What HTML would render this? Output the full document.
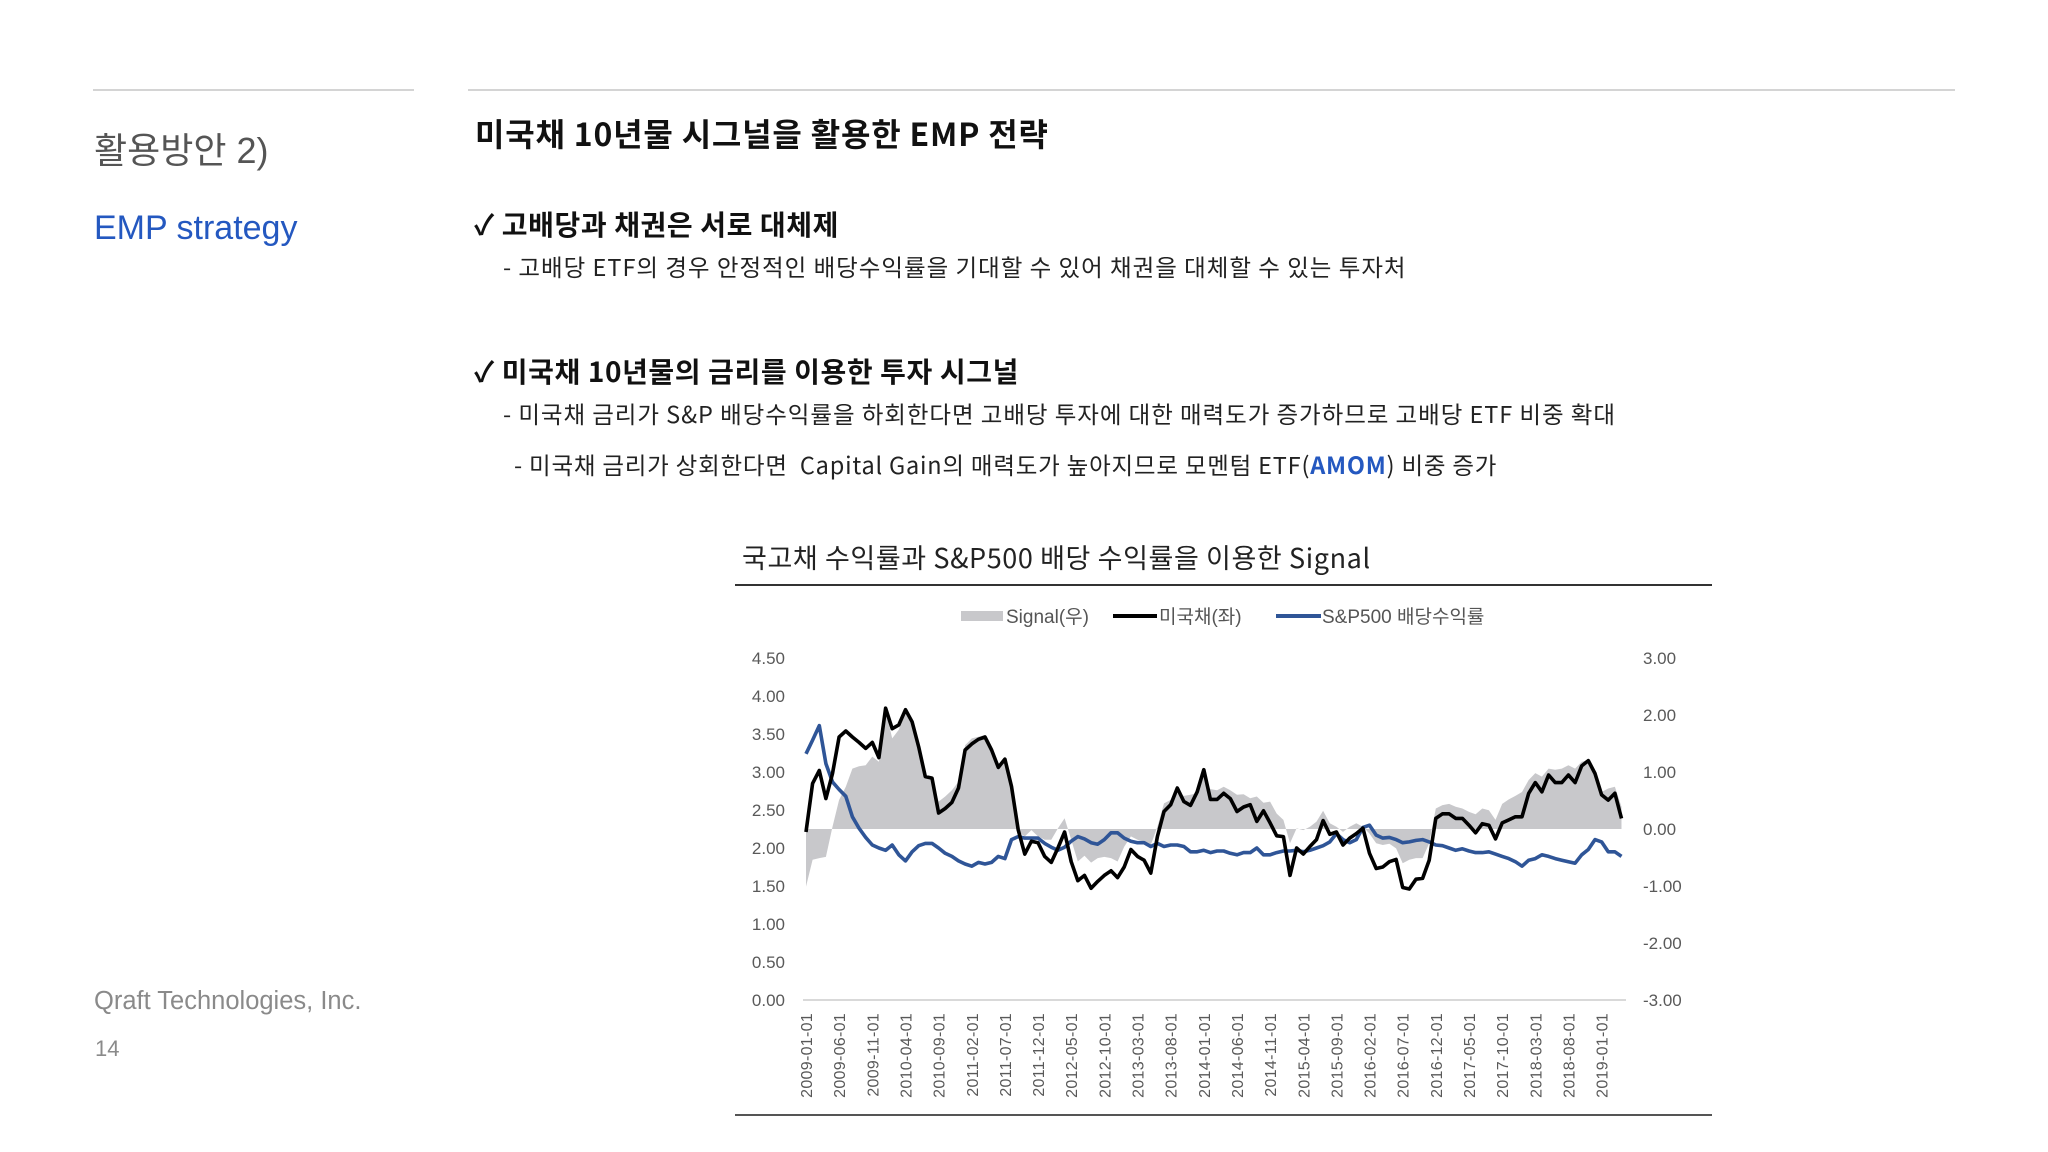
<!DOCTYPE html>
<html><head><meta charset="utf-8">
<style>
body{margin:0;width:2048px;height:1152px;background:#fff;overflow:hidden;font-family:"Liberation Sans","Noto Sans CJK KR",sans-serif;position:relative}
.a{position:absolute;white-space:nowrap}
.k{font-family:"Noto Sans CJK KR","Liberation Sans",sans-serif}
</style></head><body>
<div class="a" style="left:93px;top:89px;width:321px;height:2px;background:#d4d4d4"></div>
<div class="a" style="left:468px;top:89px;width:1487px;height:2px;background:#d4d4d4"></div>
<div class="a" style="left:94px;top:122px;font-size:36px;color:#555">활용방안 2)</div>
<div class="a" style="left:94px;top:209px;font-size:34px;color:#2458c0">EMP strategy</div>
<div class="a" style="left:94px;top:987px;font-size:25.5px;color:#8a8a8a">Qraft Technologies, Inc.</div>
<div class="a" style="left:95px;top:1036px;font-size:22px;color:#8a8a8a">14</div>

<div class="a k" style="left:475px;top:110px;font-size:32px;letter-spacing:0.8px;font-weight:bold;color:#111">미국채 10년물 시그널을 활용한 EMP 전략</div>
<div class="a k" style="left:474px;top:204px;font-size:28px;letter-spacing:0.6px;font-weight:bold;color:#111">✓ 고배당과 채권은 서로 대체제</div>
<div class="a k" style="left:503px;top:249px;font-size:23.5px;letter-spacing:1px;color:#222">- 고배당 ETF의 경우 안정적인 배당수익률을 기대할 수 있어 채권을 대체할 수 있는 투자처</div>
<div class="a k" style="left:474px;top:351px;font-size:28px;letter-spacing:0.6px;font-weight:bold;color:#111">✓ 미국채 10년물의 금리를 이용한 투자 시그널</div>
<div class="a k" style="left:503px;top:396px;font-size:23.5px;letter-spacing:0.95px;color:#222">- 미국채 금리가 S&amp;P 배당수익률을 하회한다면 고배당 투자에 대한 매력도가 증가하므로 고배당 ETF 비중 확대</div>
<div class="a k" style="left:514px;top:447px;font-size:23.5px;letter-spacing:0.8px;color:#222">- 미국채 금리가 상회한다면&nbsp; Capital Gain의 매력도가 높아지므로 모멘텀 ETF(<b style="color:#2458c0">AMOM</b>) 비중 증가</div>

<div class="a k" style="left:742px;top:537px;font-size:27px;letter-spacing:0.6px;color:#222">국고채 수익률과 S&amp;P500 배당 수익률을 이용한 Signal</div>
<div class="a" style="left:735px;top:584px;width:977px;height:2px;background:#333"></div>
<div class="a" style="left:735px;top:1114px;width:977px;height:2px;background:#555"></div>

<svg class="a" style="left:0;top:0" width="2048" height="1152">
<g id="legend" font-size="19" fill="#555" font-family="Liberation Sans, Noto Sans CJK KR, sans-serif">
<rect x="961" y="611" width="42" height="10" fill="#c8c8cb"/>
<text x="1006" y="623">Signal(우)</text>
<line x1="1113" y1="616" x2="1157" y2="616" stroke="#000" stroke-width="4"/>
<text x="1159" y="623">미국채(좌)</text>
<line x1="1276" y1="616" x2="1321" y2="616" stroke="#2f5597" stroke-width="4"/>
<text x="1322" y="623">S&amp;P500 배당수익률</text>
</g>
<g id="plot"></g>
</svg>
<script>
const leftTicks=["0.00","0.50","1.00","1.50","2.00","2.50","3.00","3.50","4.00","4.50"];
const rightTicks=["-3.00","-2.00","-1.00","0.00","1.00","2.00","3.00"];
const xLabels=["2009-01-01","2009-06-01","2009-11-01","2010-04-01","2010-09-01","2011-02-01","2011-07-01","2011-12-01","2012-05-01","2012-10-01","2013-03-01","2013-08-01","2014-01-01","2014-06-01","2014-11-01","2015-04-01","2015-09-01","2016-02-01","2016-07-01","2016-12-01","2017-05-01","2017-10-01","2018-03-01","2018-08-01","2019-01-01"];
const ust=[2.21,2.85,3.02,2.65,2.98,3.46,3.54,3.46,3.39,3.31,3.39,3.19,3.84,3.57,3.62,3.82,3.66,3.33,2.94,2.92,2.46,2.52,2.60,2.79,3.29,3.37,3.43,3.46,3.29,3.06,3.17,2.81,2.24,1.92,2.09,2.07,1.89,1.81,2.00,2.21,1.82,1.57,1.64,1.47,1.56,1.64,1.70,1.61,1.75,1.98,1.89,1.84,1.67,2.15,2.48,2.57,2.79,2.61,2.56,2.74,3.03,2.64,2.64,2.72,2.65,2.48,2.54,2.57,2.35,2.49,2.33,2.16,2.15,1.64,2.00,1.92,2.02,2.11,2.36,2.18,2.21,2.04,2.13,2.19,2.26,1.93,1.73,1.75,1.82,1.85,1.48,1.46,1.59,1.60,1.84,2.39,2.45,2.45,2.39,2.39,2.30,2.20,2.32,2.30,2.12,2.33,2.37,2.41,2.41,2.72,2.86,2.74,2.96,2.86,2.86,2.96,2.86,3.08,3.15,2.98,2.70,2.63,2.72,2.39];
const divYield=[3.24,3.42,3.61,3.11,2.87,2.77,2.68,2.41,2.26,2.14,2.04,2.00,1.97,2.04,1.91,1.83,1.95,2.03,2.06,2.06,2.00,1.93,1.89,1.83,1.79,1.76,1.81,1.79,1.81,1.89,1.86,2.11,2.15,2.13,2.13,2.13,2.06,2.01,1.97,2.01,2.09,2.15,2.12,2.07,2.05,2.11,2.20,2.20,2.13,2.09,2.07,2.07,2.02,2.06,2.02,2.04,2.04,2.02,1.95,1.95,1.97,1.94,1.96,1.96,1.93,1.91,1.94,1.94,2.00,1.91,1.91,1.94,1.96,1.96,1.97,1.95,1.97,2.00,2.03,2.08,2.19,2.11,2.07,2.11,2.27,2.30,2.17,2.13,2.14,2.11,2.07,2.08,2.10,2.11,2.08,2.04,2.03,2.00,1.97,1.99,1.96,1.94,1.94,1.95,1.92,1.89,1.86,1.82,1.76,1.84,1.86,1.91,1.89,1.86,1.84,1.82,1.80,1.91,1.98,2.11,2.08,1.95,1.95,1.89];
const signal=[-1.01,-0.54,-0.51,-0.49,0.04,0.51,0.74,1.06,1.10,1.12,1.27,1.18,2.09,1.59,1.74,2.09,1.88,1.44,0.92,0.89,0.48,0.57,0.68,0.83,1.47,1.59,1.62,1.65,1.39,1.09,1.22,0.74,-0.05,-0.13,-0.02,-0.13,-0.19,-0.19,0.01,0.19,-0.19,-0.57,-0.47,-0.59,-0.51,-0.49,-0.51,-0.57,-0.31,-0.13,-0.19,-0.22,-0.28,0.04,0.45,0.51,0.63,0.58,0.60,0.63,0.92,0.70,0.68,0.74,0.68,0.60,0.61,0.54,0.57,0.46,0.48,0.27,0.16,-0.25,0.01,-0.02,0.04,0.13,0.32,0.10,0.04,-0.05,0.04,0.10,0.04,-0.08,-0.25,-0.28,-0.26,-0.34,-0.60,-0.54,-0.51,-0.51,-0.25,0.36,0.42,0.44,0.39,0.36,0.30,0.26,0.36,0.33,0.16,0.44,0.52,0.58,0.65,0.86,0.98,0.92,1.06,1.04,1.06,1.12,1.06,1.18,1.21,1.01,0.65,0.71,0.74,0.39];

const NS='http://www.w3.org/2000/svg';
const plot=document.getElementById('plot');
const X0=806,DX=6.63;
const xs=i=>X0+i*DX;
const yL=v=>1000-v*76;
const yR=v=>829-v*57;
function mk(t,a){const e=document.createElementNS(NS,t);for(const k in a)e.setAttribute(k,a[k]);plot.appendChild(e);return e;}

const base=mk('line',{x1:803,y1:1000,x2:1626,y2:1000,stroke:'#d9d9d9','stroke-width':2});



let d='M'+xs(0)+','+yR(0);
signal.forEach((v,i)=>{d+=' L'+xs(i).toFixed(1)+','+yR(v).toFixed(1);});
d+=' L'+xs(signal.length-1)+','+yR(0)+' Z';
const area=mk('path',{d:d,fill:'#c8c8cb'});



function line(arr,col,name){
  const p=arr.map((v,i)=>xs(i).toFixed(1)+','+yL(v).toFixed(1)).join(' ');
  const e=mk('polyline',{points:p,fill:'none',stroke:col,'stroke-width':3.6,'stroke-linejoin':'round'});
  
  
}
line(divYield,'#2f5597','sp500-dividend-line');
line(ust,'#000','ust-10y-line');

leftTicks.forEach((t,i)=>{
  const e=mk('text',{x:785,y:yL(+t)+6,'text-anchor':'end','font-size':17,fill:'#595959','font-family':'Liberation Sans, sans-serif'});
  e.textContent=t;
  
  
});
rightTicks.forEach((t,i)=>{
  const e=mk('text',{x:1643,y:yR(+t)+6,'font-size':17,fill:'#595959','font-family':'Liberation Sans, sans-serif'});
  e.textContent=t;
  
  
});
xLabels.forEach((t,i)=>{
  const x=xs(i*5)+6;
  const e=mk('text',{x:x,y:1013,'text-anchor':'end','font-size':16,fill:'#595959','letter-spacing':'0.3','font-family':'Liberation Sans, sans-serif',transform:'rotate(-90 '+x+' 1013)'});
  e.textContent=t;
  
  
});
</script>
</body></html>
